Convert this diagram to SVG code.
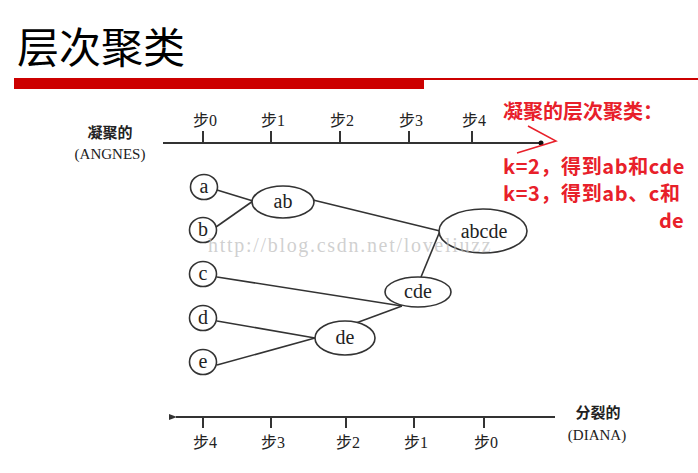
<svg xmlns="http://www.w3.org/2000/svg" width="698" height="473" viewBox="0 0 698 473">
<defs>
<style>
.ax{stroke:#333;stroke-width:2;fill:none}
.tk{stroke:#333;stroke-width:2}
.st{font-family:"Liberation Serif","Noto Sans CJK SC",serif;font-size:16px;fill:#222;text-anchor:middle}
.lb{font-family:"Liberation Serif","Noto Sans CJK SC",serif;font-size:15px;fill:#222;text-anchor:middle}
.nd{fill:#fff;stroke:#333;stroke-width:1.6}
.nt{font-family:"Liberation Serif",serif;font-size:20px;fill:#222;text-anchor:middle}
.ln{stroke:#333;stroke-width:1.6;fill:none}
.rd{font-family:"Noto Sans CJK SC","Liberation Sans",sans-serif;font-weight:bold;font-size:20px;fill:#e8202a}
</style>
<marker id="ah" markerWidth="8" markerHeight="6" refX="1" refY="3" orient="auto-start-reverse" markerUnits="userSpaceOnUse">
<path d="M8,0 L0,3 L8,6 Z" fill="#333"/>
</marker>
</defs>
<rect width="698" height="473" fill="#fff"/>
<text x="17" y="63" font-family="'Noto Sans CJK SC',sans-serif" font-size="42" fill="#000">层次聚类</text>
<rect x="14" y="78" width="410" height="11" fill="#cc0000"/>
<rect x="424" y="78" width="274" height="2" fill="#cc0000"/>

<g id="top-axis">
<line class="ax" x1="163" y1="143" x2="541" y2="143"/>
<circle cx="541" cy="143" r="2.5" fill="#111"/>
<line class="tk" x1="203" y1="131" x2="203" y2="143"/>
<line class="tk" x1="271" y1="131" x2="271" y2="143"/>
<line class="tk" x1="340" y1="131" x2="340" y2="143"/>
<line class="tk" x1="409" y1="131" x2="409" y2="143"/>
<line class="tk" x1="472" y1="131" x2="472" y2="143"/>
<text class="st" x="205" y="126">步0</text>
<text class="st" x="273" y="126">步1</text>
<text class="st" x="342" y="126">步2</text>
<text class="st" x="411" y="126">步3</text>
<text class="st" x="474" y="126">步4</text>
<text class="lb" x="110" y="138" font-weight="bold">凝聚的</text>
<text class="lb" x="110" y="159">(ANGNES)</text>
</g>

<g id="bottom-axis">
<line class="ax" x1="176" y1="417" x2="555" y2="417" marker-start="url(#ah)"/>
<line class="tk" x1="203" y1="417" x2="203" y2="428"/>
<line class="tk" x1="271" y1="417" x2="271" y2="428"/>
<line class="tk" x1="346" y1="417" x2="346" y2="428"/>
<line class="tk" x1="414" y1="417" x2="414" y2="428"/>
<line class="tk" x1="484" y1="417" x2="484" y2="428"/>
<text class="st" x="205" y="448">步4</text>
<text class="st" x="273" y="448">步3</text>
<text class="st" x="348" y="448">步2</text>
<text class="st" x="416" y="448">步1</text>
<text class="st" x="486" y="448">步0</text>
<text class="lb" x="598" y="418" font-weight="bold">分裂的</text>
<text class="lb" x="597" y="440">(DIANA)</text>
</g>

<g id="connectors">
<line class="ln" x1="217" y1="190" x2="253" y2="201"/>
<line class="ln" x1="216" y1="227" x2="253" y2="201"/>
<line class="ln" x1="313" y1="200" x2="440" y2="231"/>
<line class="ln" x1="421" y1="277" x2="440" y2="231"/>
<line class="ln" x1="217" y1="277" x2="402" y2="306"/>
<line class="ln" x1="356" y1="323" x2="402" y2="306"/>
<line class="ln" x1="217" y1="321" x2="315" y2="338"/>
<line class="ln" x1="217" y1="365" x2="315" y2="338"/>
</g>

<g id="a"><ellipse class="nd" cx="204" cy="187" rx="13.5" ry="12.5"/><text class="nt" x="204" y="193">a</text></g>
<g id="b"><ellipse class="nd" cx="203" cy="230" rx="13.5" ry="12.5"/><text class="nt" x="203" y="236">b</text></g>
<g id="c"><ellipse class="nd" cx="203" cy="274" rx="13.5" ry="12.5"/><text class="nt" x="203" y="280">c</text></g>
<g id="d"><ellipse class="nd" cx="203" cy="318" rx="13.5" ry="12.5"/><text class="nt" x="203" y="324">d</text></g>
<g id="e"><ellipse class="nd" cx="203" cy="362" rx="13.5" ry="12.5"/><text class="nt" x="203" y="368">e</text></g>
<g id="ab"><ellipse class="nd" cx="283" cy="202" rx="31" ry="16"/><text class="nt" x="283" y="208">ab</text></g>
<g id="abcde"><ellipse class="nd" cx="483" cy="231" rx="44" ry="22"/><text class="nt" x="484" y="238">abcde</text></g>
<g id="cde"><ellipse class="nd" cx="418" cy="292" rx="33" ry="15"/><text class="nt" x="418" y="298">cde</text></g>
<g id="de"><ellipse class="nd" cx="345" cy="338" rx="30" ry="17"/><text class="nt" x="345" y="344">de</text></g>

<text x="208" y="252" font-family="'Liberation Serif',serif" font-size="20" fill="#bbb" fill-opacity="0.7" letter-spacing="1.7">http://blog.csdn.net/loveliuzz</text>

<g id="note">
<path d="M528,126 L556,141 L517,153" fill="none" stroke="#e8202a" stroke-width="1.5"/>
<text class="rd" x="503" y="119">凝聚的层次聚类：</text>
<text class="rd" x="503" y="174" letter-spacing="0.6">k=2，得到ab和cde</text>
<text class="rd" x="503" y="201" letter-spacing="0.6">k=3，得到ab、c和</text>
<text class="rd" x="659" y="228">de</text>
</g>
</svg>
